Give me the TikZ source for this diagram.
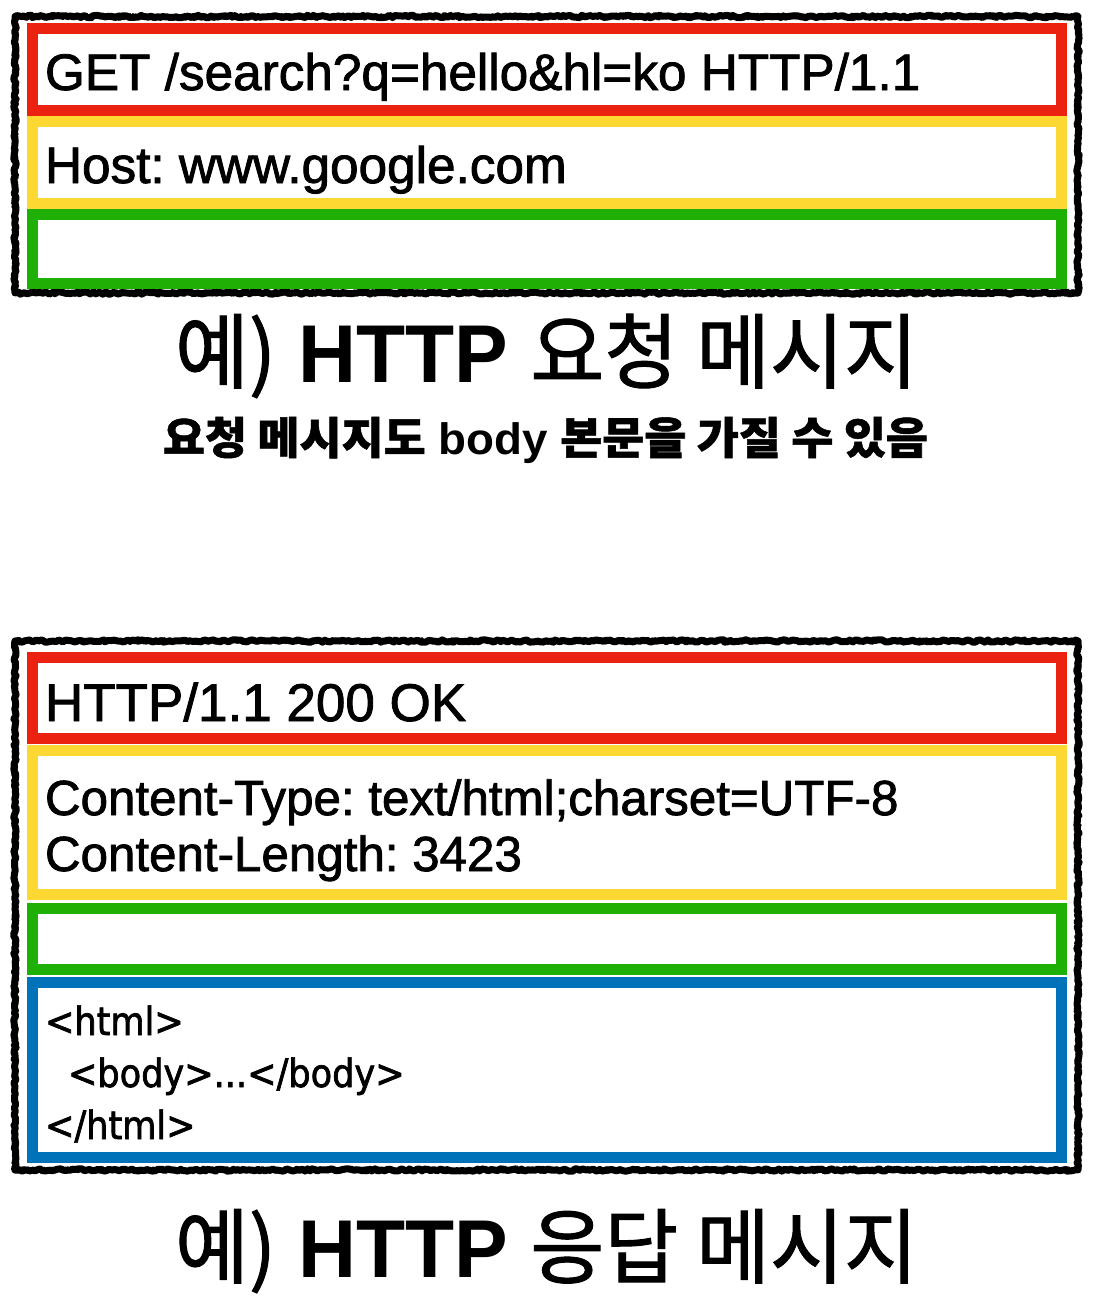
\documentclass[tikz,border=0pt]{standalone}
\usepackage{fontspec}
\usepackage{graphicx}
\setmainfont{Liberation Sans}
\newfontfamily\mf{Liberation Sans}[FakeBold=1.6]
\newfontfamily\kr{Noto Sans CJK KR}[FakeBold=1.2]
\newfontfamily\dv{DejaVu Sans}[FakeBold=1.8,FakeStretch=0.9]
\usetikzlibrary{decorations.pathmorphing}
\definecolor{cred}{RGB}{236,34,16}
\definecolor{cyel}{RGB}{254,216,50}
\definecolor{cgrn}{RGB}{30,176,4}
\definecolor{cblu}{RGB}{0,114,185}
\frenchspacing
\tikzset{
  part/.style={line width=11pt, line join=miter},
  roughA/.style={draw=black, line width=7pt, line join=round, decorate,
     decoration={random steps, segment length=2.5pt, amplitude=1.2pt}},
  roughB/.style={draw=black, line width=2.4pt, line join=round, decorate,
     decoration={random steps, segment length=1.6pt, amplitude=2.6pt}},
  txt/.style={anchor=base west, inner sep=0pt, outer sep=0pt},
  ttl/.style={anchor=base, inner sep=0pt, outer sep=0pt},
}
\begin{document}
\begin{tikzpicture}[x=1pt,y=-1pt]
\useasboundingbox[fill=white] (0,0) rectangle (1096,1302);
\pgfmathsetseed{7}
% ---------- request ----------
\draw[roughA] (15,16.5) rectangle (1078,293);
\draw[roughB] (15,16.5) rectangle (1078,293);
\draw[part,cred] (32.5,28.5) rectangle (1061.5,110);
\draw[part,cyel] (32.5,121) rectangle (1061.5,203);
\draw[part,cgrn] (32.5,214) rectangle (1061.5,283);
\node[txt,font=\mf\fontsize{51.3}{60}\selectfont] (reqline) at (45,90) {GET /search?q=hello\&hl=ko HTTP/1.1};
\node[txt,font=\mf\fontsize{51.3}{60}\selectfont] (reqhost) at (45,183) {Host: www.google.com};
\node[ttl] (reqtitle) at (546.5,382) {\resizebox{743pt}{\height}{\fontsize{82}{90}\selectfont{\kr 예)} {\bfseries HTTP} {\kr 요청 메시지}}};
\node[ttl] (reqsub) at (545.5,454) {\resizebox{765pt}{\height}{\fontsize{44}{50}\selectfont\bfseries{\kr 요청 메시지도} body {\kr 본문을 가질 수 있음}}};
% ---------- response ----------
\draw[roughA] (15,641) rectangle (1078,1170);
\draw[roughB] (15,641) rectangle (1078,1170);
\draw[part,cred] (32.5,657) rectangle (1061.5,738.5);
\draw[part,cyel] (32.5,750) rectangle (1061.5,894.5);
\draw[part,cgrn] (32.5,908.5) rectangle (1061.5,969);
\draw[part,cblu] (32.5,982.5) rectangle (1061.5,1157);
\node[txt,font=\mf\fontsize{53}{60}\selectfont] (status) at (45,721) {HTTP/1.1 200 OK};
\node[txt,font=\mf\fontsize{49.3}{56}\selectfont] (ctype) at (45,815) {Content-Type: text/html;charset=UTF-8};
\node[txt,font=\mf\fontsize{49.3}{56}\selectfont] (clen) at (45,871) {Content-Length: 3423};
\node[txt,font=\dv\fontsize{39}{42}\selectfont] (b1) at (45,1035) {<html>};
\node[txt,font=\dv\fontsize{39}{42}\selectfont] (b2) at (68,1087) {<body>...</body>};
\node[txt,font=\dv\fontsize{39}{42}\selectfont] (b3) at (45,1139) {</html>};
\node[ttl] (restitle) at (546.5,1277) {\resizebox{743pt}{\height}{\fontsize{82}{90}\selectfont{\kr 예)} {\bfseries HTTP} {\kr 응답 메시지}}};
\end{tikzpicture}
\end{document}
